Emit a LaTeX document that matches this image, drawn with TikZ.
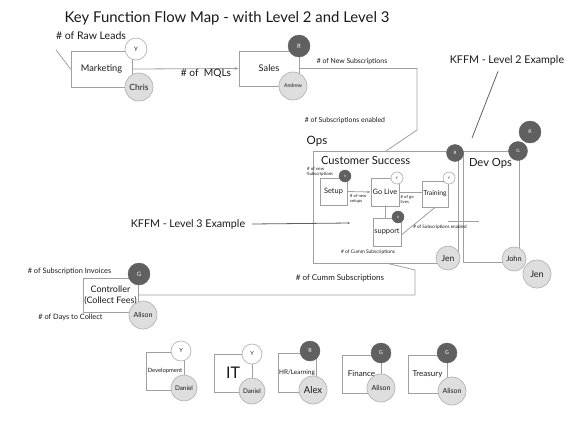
\documentclass[tikz,border=0pt]{standalone}
\usepackage{fontspec}
\setmainfont{Lato}
\usetikzlibrary{arrows.meta}
\definecolor{lineg}{HTML}{A0A0A0}
\definecolor{darkc}{HTML}{606060}
\definecolor{lightc}{HTML}{DEDEDE}
\definecolor{ringc}{HTML}{B4B4B4}
\definecolor{txt}{HTML}{1A1A1A}
\newcommand\fz[1]{\fontsize{#1}{#1}\selectfont}
\begin{document}
\begin{tikzpicture}[x=1pt,y=-1pt,
  every node/.style={text=txt},
  box/.style={draw=lineg,line width=0.8pt,inner sep=0pt},
  conn/.style={draw=lineg,line width=0.8pt},
  arr/.style={conn,-{Stealth[length=4pt,width=3pt]}},
  dk/.style={circle,fill=darkc,draw=darkc,text=white,inner sep=0pt,minimum size=#1},
  lt/.style={circle,fill=lightc,draw=ringc,line width=0.7pt,inner sep=0pt,minimum size=#1},
  wt/.style={circle,fill=white,draw=ringc,line width=0.7pt,inner sep=0pt,minimum size=#1}]
\fill[white] (0,0) rectangle (585,429);
\useasboundingbox (0,0) rectangle (585,429);

% title
\node[font=\fz{14.9}] (title) at (227,18) {Key Function Flow Map - with Level 2 and Level 3};

% Marketing
\node[font=\fz{10.5}] (rawleads) at (91,36) {\# of Raw Leads};
\node[box,minimum width=61pt,minimum height=36pt,font=\fz{9.2}] (mkt) at (101.5,69) {Marketing};
\coordinate (rl) at (56,50);
\draw[conn] (rl) -- (mkt.west);
\node[wt=22pt,font=\fz{6}] (mktY) at (136,49) {Y};
\node[lt=28pt,font=\fz{8.5}] (mktP) at (139,87) {Chris};

% Sales
\node[box,minimum width=60pt,minimum height=35pt,font=\fz{9.2}] (sales) at (269,68.5) {Sales};
\draw[arr] (mkt.east) -- (sales.west);
\node[font=\fz{10.2}] (mql) at (206,74) {\# of\ \ MQLs};
\node[dk=22pt,font=\fz{6}] (salesR) at (299,46) {R};
\node[lt=28pt,font=\fz{5.2}] (salesP) at (293,86) {Andrew};
\node[font=\fz{6.9}] (newsub) at (352,62) {\# of New Subscriptions};
\node[font=\fz{6.9}] (subsen) at (345,121) {\# of Subscriptions enabled};

% Ops
\node[font=\fz{11.5}] (ops) at (317,141) {Ops};
\node[box,minimum width=145pt,minimum height=112pt] (cs) at (385.5,207) {};
\node[box,minimum width=56pt,minimum height=111pt] (dev) at (491,206.5) {};
\coordinate (b2) at (417,130);
\coordinate (b3) at (386,151);
\draw[conn] (sales.east) -| (b2) -- (b3);

\node[anchor=west,font=\fz{11.2},inner ysep=1pt] (cslabel) at (317.5,160.5) {Customer Success};
\node[anchor=west,font=\fz{11.2}] (devlabel) at (465.5,163) {Dev Ops};

% inner level 3
\node[box,minimum width=27pt,minimum height=27pt,font=\fz{7.4}] (setup) at (333.5,191.5) {Setup};
\node[box,minimum width=28pt,minimum height=28pt,font=\fz{7.4}] (golive) at (385,192) {Go Live};
\node[box,minimum width=26pt,minimum height=26pt,font=\fz{6.8}] (train) at (435,194) {Training};
\node[box,minimum width=28pt,minimum height=28pt,font=\fz{7.4}] (support) at (387,232) {support};
\draw[arr] (setup.east) -- (golive.west);
\draw[conn] (golive.east) -- (golive.east -| train.west);
\draw[conn] (golive.south) -- (golive.south |- support.north);
\draw[conn] (train.south) -- ([yshift=-3pt]support.east);
\node[anchor=north west,align=left,font=\fontsize{4.4}{4.9}\selectfont,inner sep=0pt] (newsubs2) at (307,167.5) {\# of new\\Subscriptions};
\node[anchor=north west,align=left,font=\fontsize{4.2}{4.8}\selectfont,inner sep=0pt] (newsetups) at (350,194.5) {\# of new\\setups};
\node[anchor=north west,align=left,font=\fontsize{4.2}{4.8}\selectfont,inner sep=0pt] (golives) at (400.5,195.5) {\# of go\\lives};
\node[font=\fz{4.6}] (subsen2) at (440,227) {\# of Subscriptions enabled};
\node[font=\fz{4.9}] (cumm2) at (368,252) {\# of Cumm Subscriptions};
\coordinate (h1) at (448,221);
\coordinate (h2) at (479,221);
\draw[conn,line width=0.6pt] (h1) -- (h2);

\node[dk=12pt,font=\fz{3}] (setupC) at (345,176) {R};
\node[wt=12pt,font=\fz{3.5}] (goliveY) at (397,178) {Y};
\node[wt=12pt,font=\fz{3.5}] (trainY) at (449,178) {Y};
\node[dk=12pt,font=\fz{3}] (supportC) at (398,217) {R};

\node[dk=17pt,font=\fz{4.5}] (csR) at (455,153) {R};
\node[lt=24pt,font=\fz{8.5}] (csP) at (448,258) {Jen};
\node[dk=19pt,font=\fz{4.5}] (devG) at (518,151) {G};
\node[dk=22pt,font=\fz{5}] (devR) at (530,132) {R};
\node[lt=24pt,font=\fz{7.4}] (devP) at (514,259) {John};
\node[lt=28pt,font=\fz{9}] (devP2) at (537,274) {Jen};

% level labels
\node[font=\fz{10.7}] (l2) at (507,60) {KFFM - Level 2 Example};
\coordinate (l2end) at (472,138);
\draw[conn,draw=darkc] ([xshift=-9pt,yshift=-3pt]l2.south) -- (l2end);
\node[font=\fz{10.7}] (l3) at (188,224) {KFFM - Level 3 Example};
\coordinate (l3end) at (350,223);
\draw[conn,draw=darkc,-{Stealth[length=2.5pt,width=2pt]}] ([xshift=3pt]l3.east) -- (l3end);

% Controller
\node[box,minimum width=55pt,minimum height=34pt,align=center,font=\fontsize{9}{11}\selectfont] (ctrl) at (110.5,295) {Controller\\(Collect Fees)};
\coordinate (c1) at (386,263);
\coordinate (c2) at (415,270);
\draw[conn] (c1) -- (c2) |- (ctrl.east);
\node[font=\fz{8}] (cumm) at (340,278) {\# of Cumm Subscriptions};
\node[font=\fz{7.4}] (invoices) at (69.5,271) {\# of Subscription Invoices};
\node[font=\fz{7.4}] (days) at (70.5,317) {\# of Days to Collect};
\node[dk=22pt,font=\fz{6}] (ctrlG) at (139,274) {G};
\node[lt=28pt,font=\fz{7}] (ctrlP) at (143,315) {Alison};

% bottom row
\node[box,minimum width=38pt,minimum height=38pt,font=\fz{5.8}] (devt) at (165,371) {Development};
\node[wt=20pt,font=\fz{5.5}] (devtY) at (181,351) {Y};
\node[lt=26pt,font=\fz{6.4}] (devtP) at (184,388) {Daniel};

\node[box,minimum width=38pt,minimum height=38pt,font=\fz{16}] (it) at (233,373) {IT};
\node[wt=20pt,font=\fz{5.5}] (itY) at (252,354) {Y};
\node[lt=26pt,font=\fz{6.4}] (itP) at (252,391) {Daniel};

\node[box,minimum width=38pt,minimum height=39pt,font=\fz{6.4}] (hr) at (297,372.5) {HR/Learning};
\node[dk=20pt,font=\fz{5.5}] (hrR) at (310,351) {R};
\node[lt=28pt,font=\fz{9.5}] (hrP) at (313,390) {Alex};

\node[box,minimum width=39pt,minimum height=38pt,font=\fz{8}] (fin) at (361.5,374) {Finance};
\node[dk=20pt,font=\fz{5.5}] (finG) at (381,353) {G};
\node[lt=28pt,font=\fz{7}] (finP) at (381,388) {Alison};

\node[box,minimum width=39pt,minimum height=38pt,font=\fz{8}] (tre) at (427.5,374) {Treasury};
\node[dk=20pt,font=\fz{5.5}] (treG) at (447,353) {G};
\node[lt=28pt,font=\fz{7}] (treP) at (452,391) {Alison};
\end{tikzpicture}
\end{document}
